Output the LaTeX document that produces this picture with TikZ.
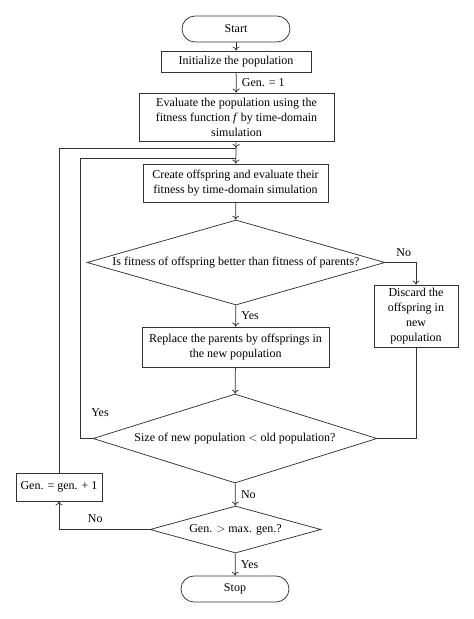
\documentclass[tikz,border=0pt]{standalone}
\usepackage{fontspec}
\setmainfont{Liberation Serif}
\usepackage{tikz}
\usetikzlibrary{shapes.geometric,arrows.meta}

\begin{document}
\begin{tikzpicture}[x=1pt,y=-1pt,
		line width=0.75pt, color=black!80,
		every node/.style={text=black, font=\fontsize{12}{15}\selectfont},
		box/.style={draw, rectangle, inner sep=2pt, align=center},
		term/.style={draw, rectangle, rounded corners=13pt, minimum width=108pt, minimum height=26pt},
		decision/.style={draw, diamond, inner sep=0pt},
		arr/.style={-{To[length=4pt,width=7pt]}}]
			\useasboundingbox (0,0) rectangle (474,619);
			\node[term] (start) at (236,29) {Start};
			\node[box, minimum width=150pt, minimum height=21pt] (init) at (236,61.5) {Initialize the population};
			\node[box, minimum width=195pt, minimum height=48pt] (eval) at (236.5,117) {Evaluate the population using the\\ fitness function \textit{f} by time-domain\\ simulation};
			\node[box, minimum width=185pt, minimum height=38pt] (create) at (235.5,183) {Create offspring and evaluate their\\ fitness by time-domain simulation};
			\node[decision, minimum width=298pt, minimum height=85pt, aspect=3.5] (fit) at (236,262.5) {Is fitness of offspring better than fitness of parents?};
			\node[box, minimum width=84pt, minimum height=62pt] (discard) at (416,316) {Discard the\\ offspring in\\ new\\ population};
			\node[box, minimum width=187pt, minimum height=40pt] (replace) at (235.5,347) {Replace the parents by offsprings in\\ the new population};
			\node[decision, minimum width=284pt, minimum height=89pt, aspect=3.2] (size) at (235,438.5) {Size of new population $<$ old population?};
			\node[decision, minimum width=171pt, minimum height=47pt, aspect=3.6] (maxgen) at (235.5,529.5) {Gen. $>$ max. gen.?};
			\node[term] (stop) at (235,589) {Stop};
			\node[box, minimum width=86pt, minimum height=28pt] (incr) at (59,487) {Gen. = gen. + 1};
			% loop points
			\coordinate (j1) at (236,148);
			\coordinate (j2) at (236,158);
			\coordinate (c2) at (80,438.5);
			% main line
			\draw[arr] (start) -- (init);
			\draw[arr] (init) -- node[right, xshift=2pt] {Gen. = 1} (eval);
			\draw[arr] (eval) -- (j1);
			\draw[arr] (j1) -- (create);
			\draw[arr] (create) -- (fit);
			\draw[arr] (fit) -- node[right, xshift=2pt] {Yes} (replace);
			\draw[arr] (replace) -- (size);
			\draw[arr] (size) -- node[right, xshift=2pt] {No} (maxgen);
			\draw[arr] (maxgen) -- node[right, xshift=2pt] {Yes} (stop);
			% branches
			\draw[arr] (fit.east) -| node[pos=0.3, above, yshift=2pt] {No} (discard.north);
			\draw (discard.south) |- (size.east);
			\draw (size.west) -- (c2) |- (j2);
			\node at (100,413) {Yes};
			\draw[arr] (maxgen.west) -| node[pos=0.3, above, yshift=3pt] {No} (incr.south);
			\draw (incr.north) |- (j1);
		\end{tikzpicture}
\end{document}
